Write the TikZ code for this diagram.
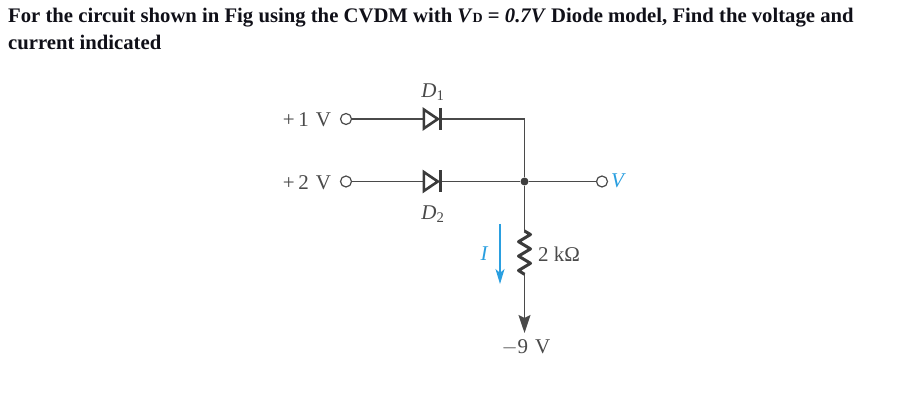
\documentclass[tikz,border=0pt]{standalone}
\usepackage{fontspec}
\setmainfont{Liberation Serif}
\usetikzlibrary{arrows.meta}
\definecolor{ink}{HTML}{4A4A4A}
\definecolor{bluec}{HTML}{2A9FE0}
\definecolor{titlec}{HTML}{101018}
\tikzset{
  title/.style={anchor=base west,inner sep=0,font=\fontsize{20.7}{24}\selectfont\bfseries,text=titlec},
  lab/.style={inner sep=0,text=ink,font=\fontsize{21}{24}\selectfont},
  ital/.style={inner sep=0,text=ink,font=\fontsize{21}{24}\selectfont\itshape},
  wire/.style={draw=ink,line width=1.4pt},
  term/.style={circle,draw=ink,line width=1.2pt,fill=white,minimum size=11pt,inner sep=0},
  dot/.style={circle,fill=ink!85!black,minimum size=8pt,inner sep=0},
  diodebox/.style={minimum width=18pt,minimum height=22pt,inner sep=0},
  diodeline/.style={draw=ink!80!black,line width=2.6pt,line join=miter},
  cur/.style={draw=bluec,line width=1.2pt,-{Stealth[length=15pt,width=9pt,inset=4pt]}},
  feed/.style={draw=ink,line width=1.4pt,-{Stealth[length=18pt,width=12pt,inset=3pt]}}
}
\begin{document}
\begin{tikzpicture}[x=1pt,y=-1pt]
\useasboundingbox (0,0) rectangle (915,411);
\fill[white] (0,0) rectangle (915,411);
\node[title] (t1) at (8,23) {For the circuit shown in Fig using the CVDM with \textit{V}{\fontsize{14}{16}\selectfont D} = \textit{0.7V} Diode model, Find the voltage and};
\node[title] (t2) at (8,50) {current indicated};

\node[term] (a) at (346,119) {};
\node[term] (b) at (346,181.5) {};
\node[term] (o) at (602,181.5) {};
\node[diodebox] (d1) at (433,119) {};
\node[diodebox] (d2) at (433,181.5) {};
\node[dot] (j) at (524.5,181.5) {};
\coordinate (c) at (524.5,119);
\coordinate (rt) at (524.5,231);
\coordinate (rb) at (524.5,274);
\coordinate (gnd) at (524.5,333);
\coordinate (it) at (500,224);
\coordinate (ib) at (500,284);

\draw[wire] (a) -- (d1.west);
\draw[wire] (b) -- (d2.west);
\draw[wire] (d1.east) -- (c) -- (j);
\draw[wire] (d2.east) -- (j);
\draw[wire] (j) -- (o);
\draw[wire] (j) -- (rt);
\draw[feed] (rb) -- (gnd);
\draw[cur] (it) -- (ib);

\foreach \d in {d1,d2}{
  \draw[diodeline] (\d.west) ++(0,-9.5) -- ++(14,9.5) -- ++(-14,9.5) -- cycle;
  \draw[draw=ink!80!black,line width=3.4pt] (\d.east) ++(-1.5,-11) -- ++(0,22);
}
\draw[draw=ink!80!black,line width=3pt,line join=round] (rt) -- ++(6,3.5) -- ++(-12,7.2) -- ++(12,7.2) -- ++(-12,7.2) -- ++(12,7.2) -- ++(-12,7.2) -- ++(6,3.8);

\node[lab] (v1) at (307,120) {+\,1\,\,V};
\node[lab] (v2) at (307,183) {+\,2\,\,V};
\node[ital] (ld1) at (433,92) {D\textsubscript{\upshape 1}};
\node[ital] (ld2) at (433,214) {D\textsubscript{\upshape 2}};
\node[ital,anchor=west,text=bluec] (lv) at (611,181) {V};
\node[ital,text=bluec] (li) at (484,254) {I};
\node[lab,anchor=west] (lr) at (538,254) {2 kΩ};
\node[lab] (l9) at (526,347) {\(-\)9\,\,V};
\end{tikzpicture}
\end{document}
